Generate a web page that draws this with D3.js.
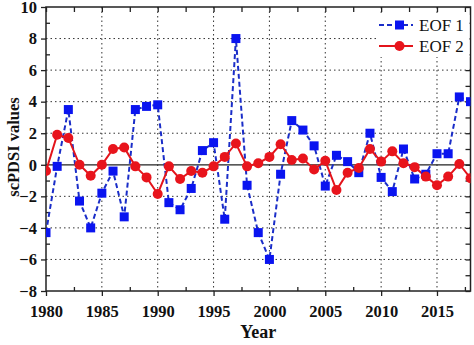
<!DOCTYPE html>
<html><head><meta charset="utf-8">
<script src="https://cdn.jsdelivr.net/npm/d3@7/dist/d3.min.js"></script>
<style>body{margin:0;background:#fff}svg{display:block}
svg text{font-family:"Liberation Serif","Times New Roman","DejaVu Serif",serif !important;}</style>
</head><body>
<script>
const years = d3.range(1980, 2019);
const eof1 = [-4.3,-0.1,3.5,-2.3,-4.0,-1.8,-0.4,-3.3,3.5,3.7,3.8,-2.4,-2.85,-1.5,0.9,1.4,-3.45,8.0,-1.3,-4.3,-6.0,-0.6,2.8,2.2,1.2,-1.35,0.6,0.2,-0.5,2.0,-0.8,-1.7,1.0,-0.9,-0.6,0.7,0.7,4.3,4.0];
const eof2 = [-0.4,1.9,1.7,0.0,-0.7,0.0,1.0,1.1,-0.1,-0.8,-1.85,-0.1,-0.9,-0.4,-0.5,-0.1,0.5,1.35,-0.1,0.1,0.5,1.3,0.3,0.4,-0.3,0.25,-1.6,-0.5,-0.2,1.0,0.2,0.85,0.1,-0.15,-0.75,-1.3,-0.75,0.05,-0.85];
const xMajor = [1980,1985,1990,1995,2000,2005,2010,2015];
const xMinor = [1982.5,1987.5,1992.5,1997.5,2002.5,2007.5,2012.5,2017.5];
const yMajor = [-8,-6,-4,-2,0,2,4,6,8,10];
const yMinor = [-7,-5,-3,-1,1,3,5,7,9];
const seriesNames = ["EOF 1","EOF 2"];

(function(){
const W = 474, H = 345;
const L = 46, R = 470.5, T = 7, B = 291;
const svg = d3.select("body").append("svg").attr("width", W).attr("height", H);
const x = d3.scaleLinear().domain([1980, 2018]).range([L, R]);
const y = d3.scaleLinear().domain([-8, 10]).range([B, T]);

const g = svg.append("g");
g.selectAll(".gx").data(xMajor.slice(1)).enter().append("line")
  .attr("x1", d => x(d)).attr("x2", d => x(d)).attr("y1", T).attr("y2", B)
  .attr("stroke", "#333").attr("stroke-width", 1).attr("stroke-dasharray", "1.5,3");
g.selectAll(".gy").data(yMajor.filter(v => v !== 0 && v !== -8 && v !== 10)).enter().append("line")
  .attr("x1", L).attr("x2", R).attr("y1", d => y(d)).attr("y2", d => y(d))
  .attr("stroke", "#333").attr("stroke-width", 1).attr("stroke-dasharray", "1.5,3");
svg.append("line").attr("x1", L).attr("x2", R).attr("y1", y(0)).attr("y2", y(0))
  .attr("stroke", "#222").attr("stroke-width", 1.3);

function styleAxis(sel){ sel.select(".domain").remove(); sel.selectAll("line").attr("stroke","#222").attr("stroke-width",1.3); }
const axB = svg.append("g").attr("transform", `translate(0,${B})`)
  .call(d3.axisBottom(x).tickValues(xMajor).tickFormat(d3.format("d")).tickSize(5).tickPadding(9));
styleAxis(axB);
axB.selectAll("text").attr("font-weight", "bold").attr("font-size", 16.5).attr("fill", "#111");
const axBm = svg.append("g").attr("transform", `translate(0,${B})`)
  .call(d3.axisBottom(x).tickValues(xMinor).tickFormat("").tickSize(-4));
styleAxis(axBm);
const axT = svg.append("g").attr("transform", `translate(0,${T})`)
  .call(d3.axisTop(x).tickValues(xMajor.concat(xMinor)).tickFormat("").tickSize(-5));
styleAxis(axT);
const axL = svg.append("g").attr("transform", `translate(${L},0)`)
  .call(d3.axisLeft(y).tickValues(yMajor).tickSize(5).tickPadding(4));
styleAxis(axL);
axL.selectAll("text").attr("font-weight", "bold").attr("font-size", 16.5).attr("fill", "#111");
const axLm = svg.append("g").attr("transform", `translate(${L},0)`)
  .call(d3.axisLeft(y).tickValues(yMinor).tickFormat("").tickSize(-4));
styleAxis(axLm);
const axR = svg.append("g").attr("transform", `translate(${R},0)`)
  .call(d3.axisRight(y).tickValues(yMajor.concat(yMinor)).tickFormat("").tickSize(-5));
styleAxis(axR);

svg.append("rect").attr("x", L).attr("y", T).attr("width", R - L).attr("height", B - T)
  .attr("fill", "none").attr("stroke", "#222").attr("stroke-width", 1.5);

svg.append("clipPath").attr("id", "clip").append("rect")
  .attr("x", L).attr("y", T - 6).attr("width", R - L).attr("height", B - T + 12);
const plot = svg.append("g").attr("clip-path", "url(#clip)");

const line1 = d3.line().x((d, i) => x(years[i])).y(d => y(d));
plot.append("path").datum(eof1).attr("d", line1).attr("fill", "none")
  .attr("stroke", "#1a2dc8").attr("stroke-width", 2).attr("stroke-dasharray", "5,3");
plot.append("path").datum(eof2).attr("d", line1).attr("fill", "none")
  .attr("stroke", "#e3141b").attr("stroke-width", 2);
plot.selectAll(".sq").data(eof1).enter().append("rect")
  .attr("x", (d, i) => x(years[i]) - 4.5).attr("y", d => y(d) - 4.5)
  .attr("width", 9).attr("height", 9).attr("fill", "#0a14f0");
plot.selectAll(".ci").data(eof2).enter().append("circle")
  .attr("cx", (d, i) => x(years[i])).attr("cy", d => y(d)).attr("r", 5)
  .attr("fill", "#e8141c");

const lg = svg.append("g");
lg.append("rect").attr("x", 376).attr("y", 15).attr("width", R - 377).attr("height", 42).attr("fill", "#fff");
lg.append("line").attr("x1", 379).attr("x2", 413).attr("y1", 25).attr("y2", 25)
  .attr("stroke", "#1a2dc8").attr("stroke-width", 2).attr("stroke-dasharray", "5,3");
lg.append("rect").attr("x", 395).attr("y", 20.5).attr("width", 9).attr("height", 9).attr("fill", "#0a14f0");
lg.append("line").attr("x1", 379).attr("x2", 413).attr("y1", 46).attr("y2", 46)
  .attr("stroke", "#e3141b").attr("stroke-width", 2);
lg.append("circle").attr("cx", 399.5).attr("cy", 46).attr("r", 5).attr("fill", "#e8141c");
lg.selectAll(".lt").data(seriesNames).enter().append("text")
  .attr("x", 419).attr("y", (d, i) => 31 + i * 21).text(d => d)
  .attr("font-size", 17).attr("fill", "#111");

svg.append("text").attr("x", (L + R) / 2).attr("y", 338).attr("text-anchor", "middle")
  .attr("font-weight", "bold").attr("font-size", 18).attr("fill", "#111").text("Year");
svg.append("text").attr("transform", `translate(19,147) rotate(-90)`).attr("text-anchor", "middle")
  .attr("font-weight", "bold").attr("font-size", 16.5).attr("fill", "#111").text("scPDSI values");
})();
</script>
</body></html>
